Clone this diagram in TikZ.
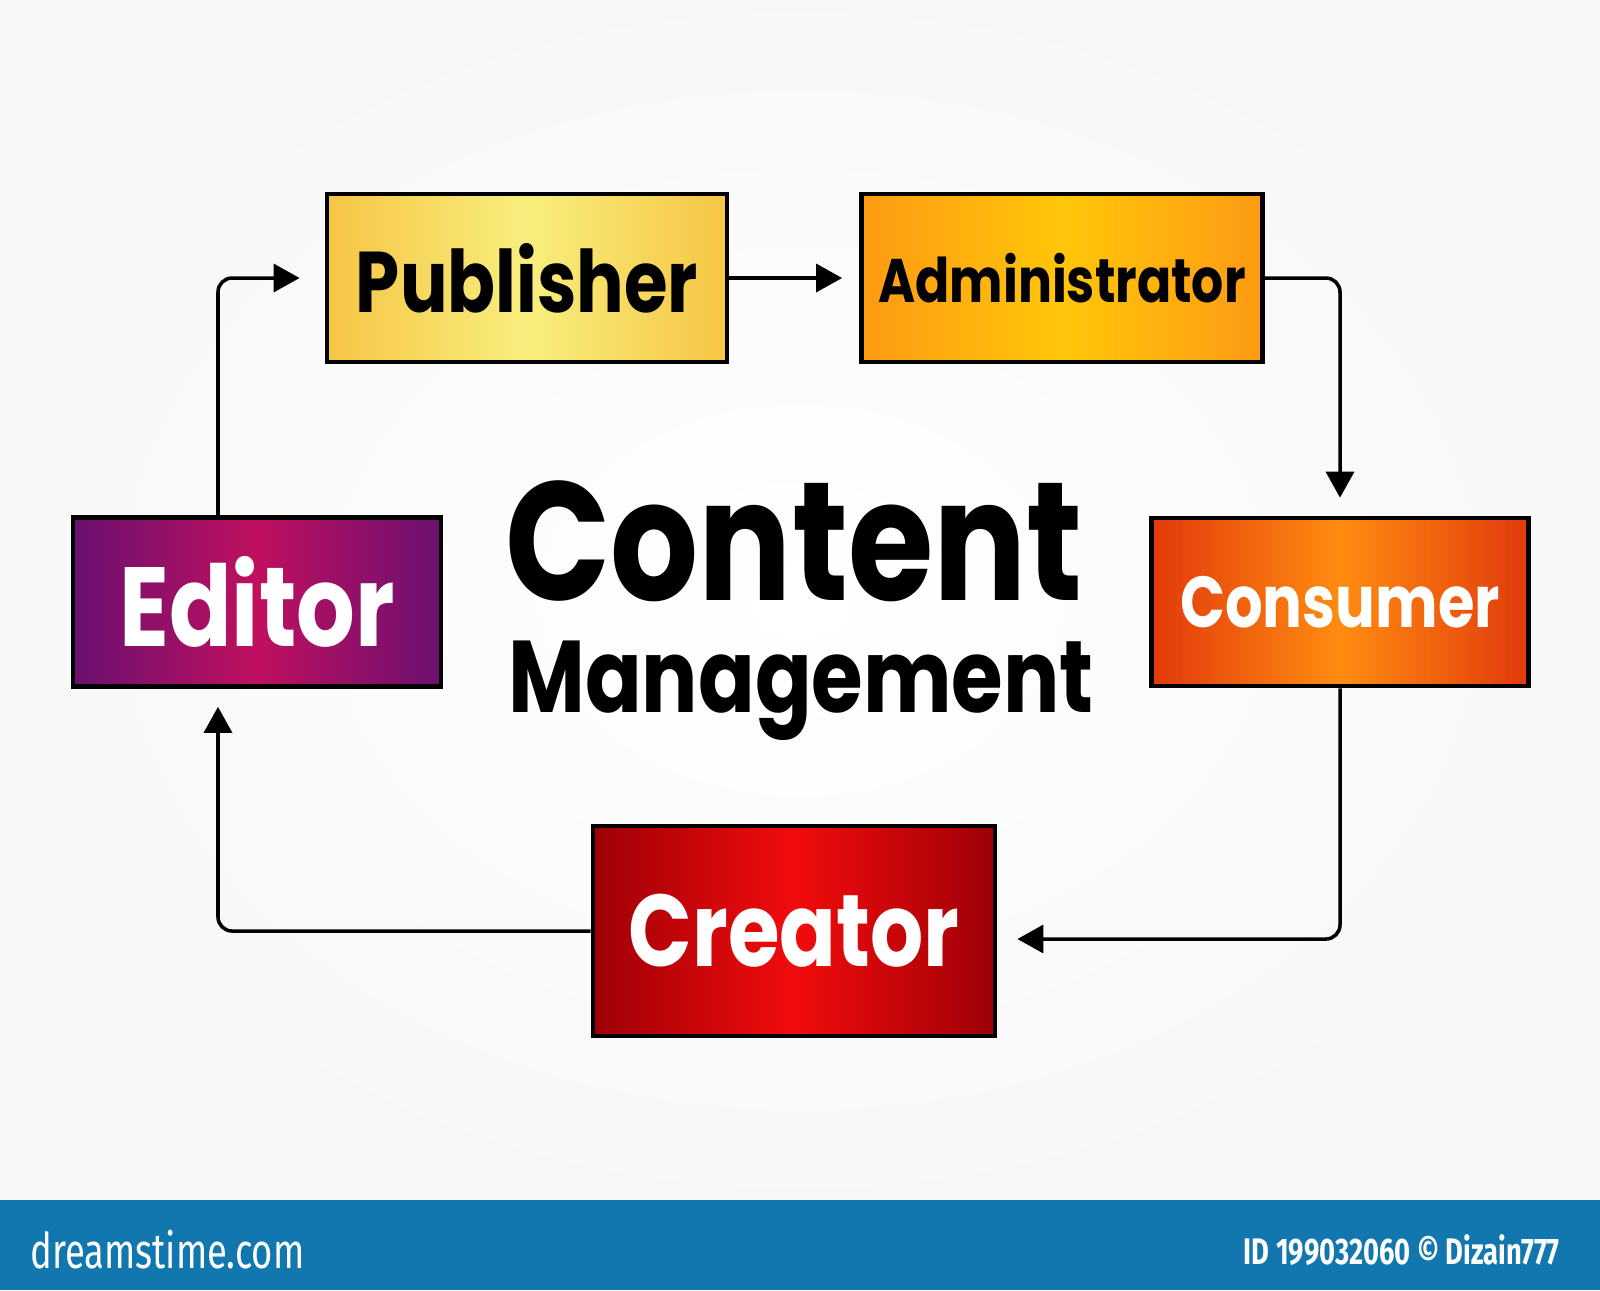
\documentclass[tikz,border=0pt]{standalone}
\usepackage{fontspec}
\setmainfont{Poppins}[FakeStretch = 0.82]
\newfontfamily\bannerfont{Fira Sans}[FakeStretch = 0.74]
\usepackage{tikz}
\usetikzlibrary{arrows.meta}

\definecolor{bannerblue}{HTML}{1177AE}

\begin{document}
\begin{tikzpicture}[x = 0.01cm, y = -0.01cm,
        box/.style = {draw = black, line width = 1.3pt, rectangle, inner sep = 0pt,
            font = \bfseries},
        flow/.style = {line width = 1pt, rounded corners = 4pt,
            -{Triangle[length = 0.26cm, width = 0.28cm]}},
        title/.style = {anchor = base, inner sep = 0pt, font = \bfseries, text = black}]
            \useasboundingbox (0,0) rectangle (1600,1290);
            \shade[inner color = white, outer color = gray!6] (0,0) rectangle (1600,1200);

            \node [box, minimum width = 4cm, minimum height = 1.68cm,
            left color = {rgb,255:red,246;green,197;blue,68},
            right color = {rgb,255:red,246;green,197;blue,68},
            middle color = {rgb,255:red,248;green,238;blue,126},
            font = \bfseries\fontsize{24.5}{29}\selectfont] (publisher) at (527,278) {Publisher};

            \node [box, minimum width = 4.01cm, minimum height = 1.68cm,
            left color = {rgb,255:red,253;green,154;blue,19},
            right color = {rgb,255:red,253;green,154;blue,19},
            middle color = {rgb,255:red,255;green,198;blue,10},
            font = \bfseries\fontsize{17.5}{21}\selectfont] (administrator) at (1062,278) {Administrator};

            \node [box, minimum width = 3.77cm, minimum height = 1.68cm, text = white,
            left color = {rgb,255:red,226;green,58;blue,12},
            right color = {rgb,255:red,226;green,58;blue,12},
            middle color = {rgb,255:red,255;green,140;blue,16},
            font = \bfseries\fontsize{20.5}{25}\selectfont] (consumer) at (1340,602) {Consumer};

            \node [box, minimum width = 3.68cm, minimum height = 1.69cm, text = white,
            left color = {rgb,255:red,106;green,16;blue,112},
            right color = {rgb,255:red,106;green,16;blue,112},
            middle color = {rgb,255:red,192;green,16;blue,95},
            font = \bfseries\fontsize{32}{37}\selectfont] (editor) at (257,602) {Editor};

            \node [box, minimum width = 4.02cm, minimum height = 2.1cm, text = white,
            left color = {rgb,255:red,158;green,0;blue,8},
            right color = {rgb,255:red,158;green,0;blue,8},
            middle color = {rgb,255:red,242;green,12;blue,12},
            font = \bfseries\fontsize{29}{34}\selectfont] (creator) at (794,931) {Creator};

            \node [title, font = \bfseries\fontsize{48}{56}\selectfont] (content) at (794,600) {Content};
            \node [title, font = \bfseries\fontsize{29}{34}\selectfont] (management) at (801,712) {Management};

            \coordinate (leftrail) at (218,0);
            \coordinate (lowrail) at (0,939);

            \draw [flow, shorten > = 0.25cm] (editor.north -| leftrail) |- (publisher.west);
            \draw [flow, shorten > = 0.17cm] (publisher.east) -- (administrator.west);
            \draw [flow, shorten > = 0.18cm] (administrator.east) -| (consumer.north);
            \draw [flow, shorten > = 0.2cm] (consumer.south) |- (creator.east |- lowrail);
            \draw [flow, shorten > = 0.18cm] (creator.west) -| (editor.south -| leftrail);

            \fill [bannerblue] (0,1200) rectangle (1600,1290);
            \node [anchor = west, text = white, font = \bannerfont\fontsize{14}{17}\selectfont]
            (site) at (18,1250) {dreamstime.com};
            \node [anchor = east, text = white, font = \bannerfont\bfseries\fontsize{10.5}{13}\selectfont]
            (credit) at (1572,1250) {ID 199032060 © Dizain777};
        \end{tikzpicture}
\end{document}
